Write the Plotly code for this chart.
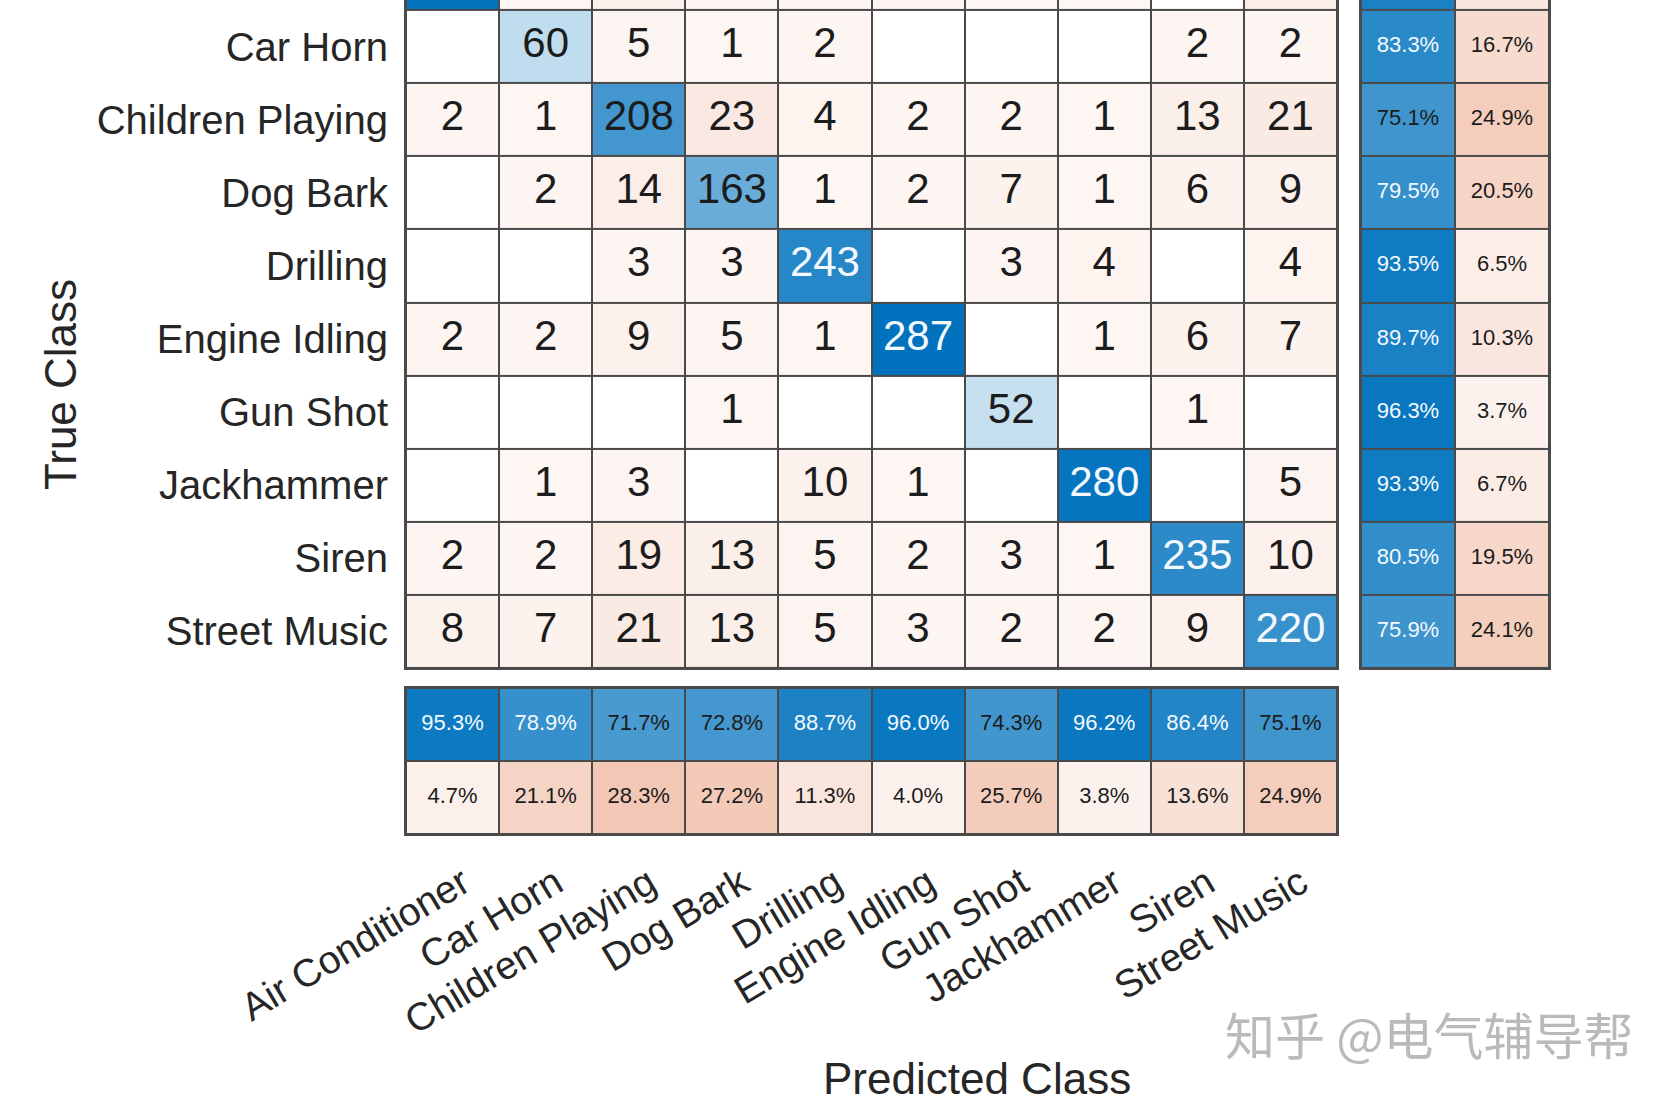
import plotly.graph_objects as go

# ---------------- data ----------------
classes = ["Air Conditioner", "Car Horn", "Children Playing", "Dog Bark", "Drilling",
           "Engine Idling", "Gun Shot", "Jackhammer", "Siren", "Street Music"]

row_air_conditioner = [284, 1, 8, 2, 3, 2, 1, 1, 0, 15]
row_car_horn        = [0, 60, 5, 1, 2, 0, 0, 0, 2, 2]
row_children        = [2, 1, 208, 23, 4, 2, 2, 1, 13, 21]
row_dog_bark        = [0, 2, 14, 163, 1, 2, 7, 1, 6, 9]
row_drilling        = [0, 0, 3, 3, 243, 0, 3, 4, 0, 4]
row_engine          = [2, 2, 9, 5, 1, 287, 0, 1, 6, 7]
row_gun_shot        = [0, 0, 0, 1, 0, 0, 52, 0, 1, 0]
row_jackhammer      = [0, 1, 3, 0, 10, 1, 0, 280, 0, 5]
row_siren           = [2, 2, 19, 13, 5, 2, 3, 1, 235, 10]
row_street_music    = [8, 7, 21, 13, 5, 3, 2, 2, 9, 220]

matrix = [row_air_conditioner, row_car_horn, row_children, row_dog_bark, row_drilling,
          row_engine, row_gun_shot, row_jackhammer, row_siren, row_street_music]

x_title = "Predicted Class"
y_title = "True Class"
watermark = "知乎 @电气辅导帮"

# ---------------- styling ----------------
W, H = 1675, 1103
FONT = "Liberation Sans, Arial, Helvetica, sans-serif"
LABEL = "#262626"
DARK_TXT = "#1c1c1c"
LIGHT_TXT = "#f4f9ff"
BORDER = "#4a4a4a"
CSCALE = [[0.0, "rgb(217,83,25)"], [0.5, "rgb(255,255,255)"], [1.0, "rgb(0,114,189)"]]

n = len(classes)
idx = list(range(n))
vmax = max(max(r) for r in matrix)

# geometry (pixels)
GX0, GX1 = 406, 1337
GY_TOP, GY_BOT = 10, 668
row_h = (GY_BOT - GY_TOP) / (n - 1)
y_top_val = 0.5 - GY_TOP / row_h


def px_x(a, b):
    return [a / W, b / W]


def px_y(top, bottom):
    return [1 - bottom / H, 1 - top / H]


def visible(i):
    return i > y_top_val


# main matrix
z_main, tx, ty, tt, tc = [], [], [], [], []
for i, row in enumerate(matrix):
    zr = []
    for j, v in enumerate(row):
        t = 0.0 if v == 0 else 0.05 + 0.95 * v / vmax
        zr.append(t if i == j else -t)
        if v > 0 and visible(i):
            tx.append(j)
            ty.append(i)
            tt.append(str(v))
            tc.append(LIGHT_TXT if (i == j and v / vmax > 0.755) else DARK_TXT)
    z_main.append(zr)

# row summary (recall / miss rate)
z_row, rx, ry, rt, rc = [], [], [], [], []
for i, row in enumerate(matrix):
    p = row[i] / sum(row)
    e = 1 - p
    z_row.append([p, -min(1.0, 0.04 + e)])
    if visible(i):
        rx += [0, 1]
        ry += [i, i]
        rt += [f"{100 * p:.1f}%", f"{100 * e:.1f}%"]
        rc += [LIGHT_TXT if p > 0.755 else DARK_TXT, DARK_TXT]

# column summary (precision / false discovery)
z_col = [[], []]
cx, cy, ct, cc = [], [], [], []
for j in idx:
    col_sum = sum(matrix[i][j] for i in idx)
    p = matrix[j][j] / col_sum
    e = 1 - p
    z_col[0].append(p)
    z_col[1].append(-min(1.0, 0.04 + e))
    cx += [j, j]
    cy += [0, 1]
    ct += [f"{100 * p:.1f}%", f"{100 * e:.1f}%"]
    cc += [LIGHT_TXT if p > 0.755 else DARK_TXT, DARK_TXT]

fig = go.Figure()

hm = dict(colorscale=CSCALE, zmin=-1, zmax=1, showscale=False, xgap=2, ygap=2, hoverinfo="skip")

fig.add_trace(go.Heatmap(z=z_main, x=idx, y=idx, xaxis="x", yaxis="y", **hm))
fig.add_trace(go.Scatter(x=tx, y=ty, text=tt, mode="text", xaxis="x", yaxis="y",
                         textfont=dict(family=FONT, size=42, color=tc), hoverinfo="skip", showlegend=False))

fig.add_trace(go.Heatmap(z=z_row, x=[0, 1], y=idx, xaxis="x2", yaxis="y2", **hm))
fig.add_trace(go.Scatter(x=rx, y=ry, text=rt, mode="text", xaxis="x2", yaxis="y2",
                         textfont=dict(family=FONT, size=22, color=rc), hoverinfo="skip", showlegend=False))

fig.add_trace(go.Heatmap(z=z_col, x=idx, y=[0, 1], xaxis="x3", yaxis="y3", **hm))
fig.add_trace(go.Scatter(x=cx, y=cy, text=ct, mode="text", xaxis="x3", yaxis="y3",
                         textfont=dict(family=FONT, size=22, color=cc), hoverinfo="skip", showlegend=False))

line = dict(showline=True, linecolor=BORDER, linewidth=2, showgrid=False, zeroline=False,
            fixedrange=True, automargin=False)

fig.update_layout(
    width=W, height=H,
    margin=dict(l=0, r=0, t=0, b=0, autoexpand=False),
    paper_bgcolor="white", plot_bgcolor=BORDER,
    showlegend=False,
    font=dict(family=FONT, color=LABEL),
    xaxis=dict(domain=px_x(GX0, GX1), range=[-0.5, n - 0.5], showticklabels=False,
               mirror=False, **line),
    yaxis=dict(domain=px_y(0, GY_BOT), range=[n - 0.5, y_top_val], tickmode="array",
               tickvals=idx, ticktext=classes, ticks="outside", ticklen=8,
               tickcolor="rgba(0,0,0,0)", tickfont=dict(size=40, color=LABEL),
               mirror=True, **line),
    xaxis2=dict(domain=px_x(1361, 1549), range=[-0.5, 1.5], showticklabels=False,
                anchor="y2", mirror=False, **line),
    yaxis2=dict(domain=px_y(0, GY_BOT), range=[n - 0.5, y_top_val], showticklabels=False,
                anchor="x2", mirror=True, **line),
    xaxis3=dict(domain=px_x(GX0, GX1), range=[-0.5, n - 0.5], anchor="y3",
                tickmode="array", tickvals=idx, ticktext=classes, tickangle=-31,
                ticks="outside", ticklen=9, tickcolor="rgba(0,0,0,0)", ticklabelshift=10,
                tickfont=dict(size=39, color=LABEL), mirror=True, **line),
    yaxis3=dict(domain=px_y(688, 834), range=[1.5, -0.5], showticklabels=False,
                anchor="x3", mirror=True, **line),
    annotations=[
        dict(text=x_title, xref="paper", yref="paper", x=977 / W, y=1 - 1078 / H,
             showarrow=False, font=dict(size=44, color=LABEL), xanchor="center", yanchor="middle"),
        dict(text=y_title, xref="paper", yref="paper", x=61 / W, y=1 - 385 / H, textangle=-90,
             showarrow=False, font=dict(size=44, color=LABEL), xanchor="center", yanchor="middle"),
        dict(text=watermark, xref="paper", yref="paper", x=1429 / W, y=1 - 1033 / H,
             showarrow=False, font=dict(family="Noto Sans CJK SC", size=50, color="#bababa"),
             xanchor="center", yanchor="middle"),
    ],
)

fig.write_html("out.html", config={"displayModeBar": False},
               post_script="document.body.style.margin='0px';")
